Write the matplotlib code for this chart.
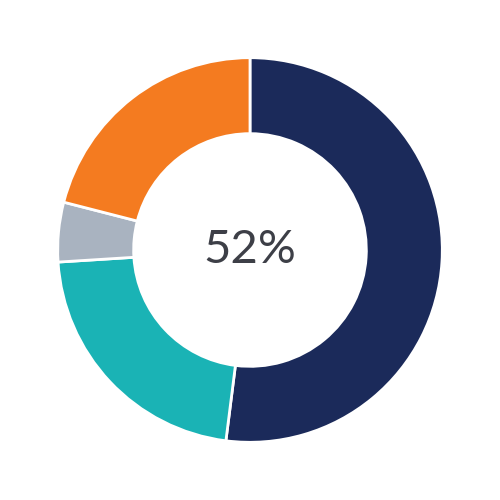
import matplotlib.pyplot as plt

labels = ['Navy', 'Teal', 'Gray', 'Orange']
values = [52, 22, 5, 21]
colors = ['#1b2a5a', '#1ab3b5', '#a9b3c0', '#f47b20']
center_label = '52%'

fig = plt.figure(figsize=(5, 5), dpi=100)
ax = fig.add_axes([0, 0, 1, 1])

ax.pie(values, colors=colors, startangle=90, counterclock=False,
       radius=1.0, wedgeprops=dict(width=0.395, edgecolor='white', linewidth=2))

ax.text(0, 0, center_label, ha='center', va='center', fontsize=34,
        family=['Lato', 'DejaVu Sans'], color='#3d3f47')

ax.set_xlim(-1.3, 1.3)
ax.set_ylim(-1.3, 1.3)
ax.set_aspect('equal')
ax.axis('off')

fig.savefig('out.png', dpi=100, facecolor='white')
